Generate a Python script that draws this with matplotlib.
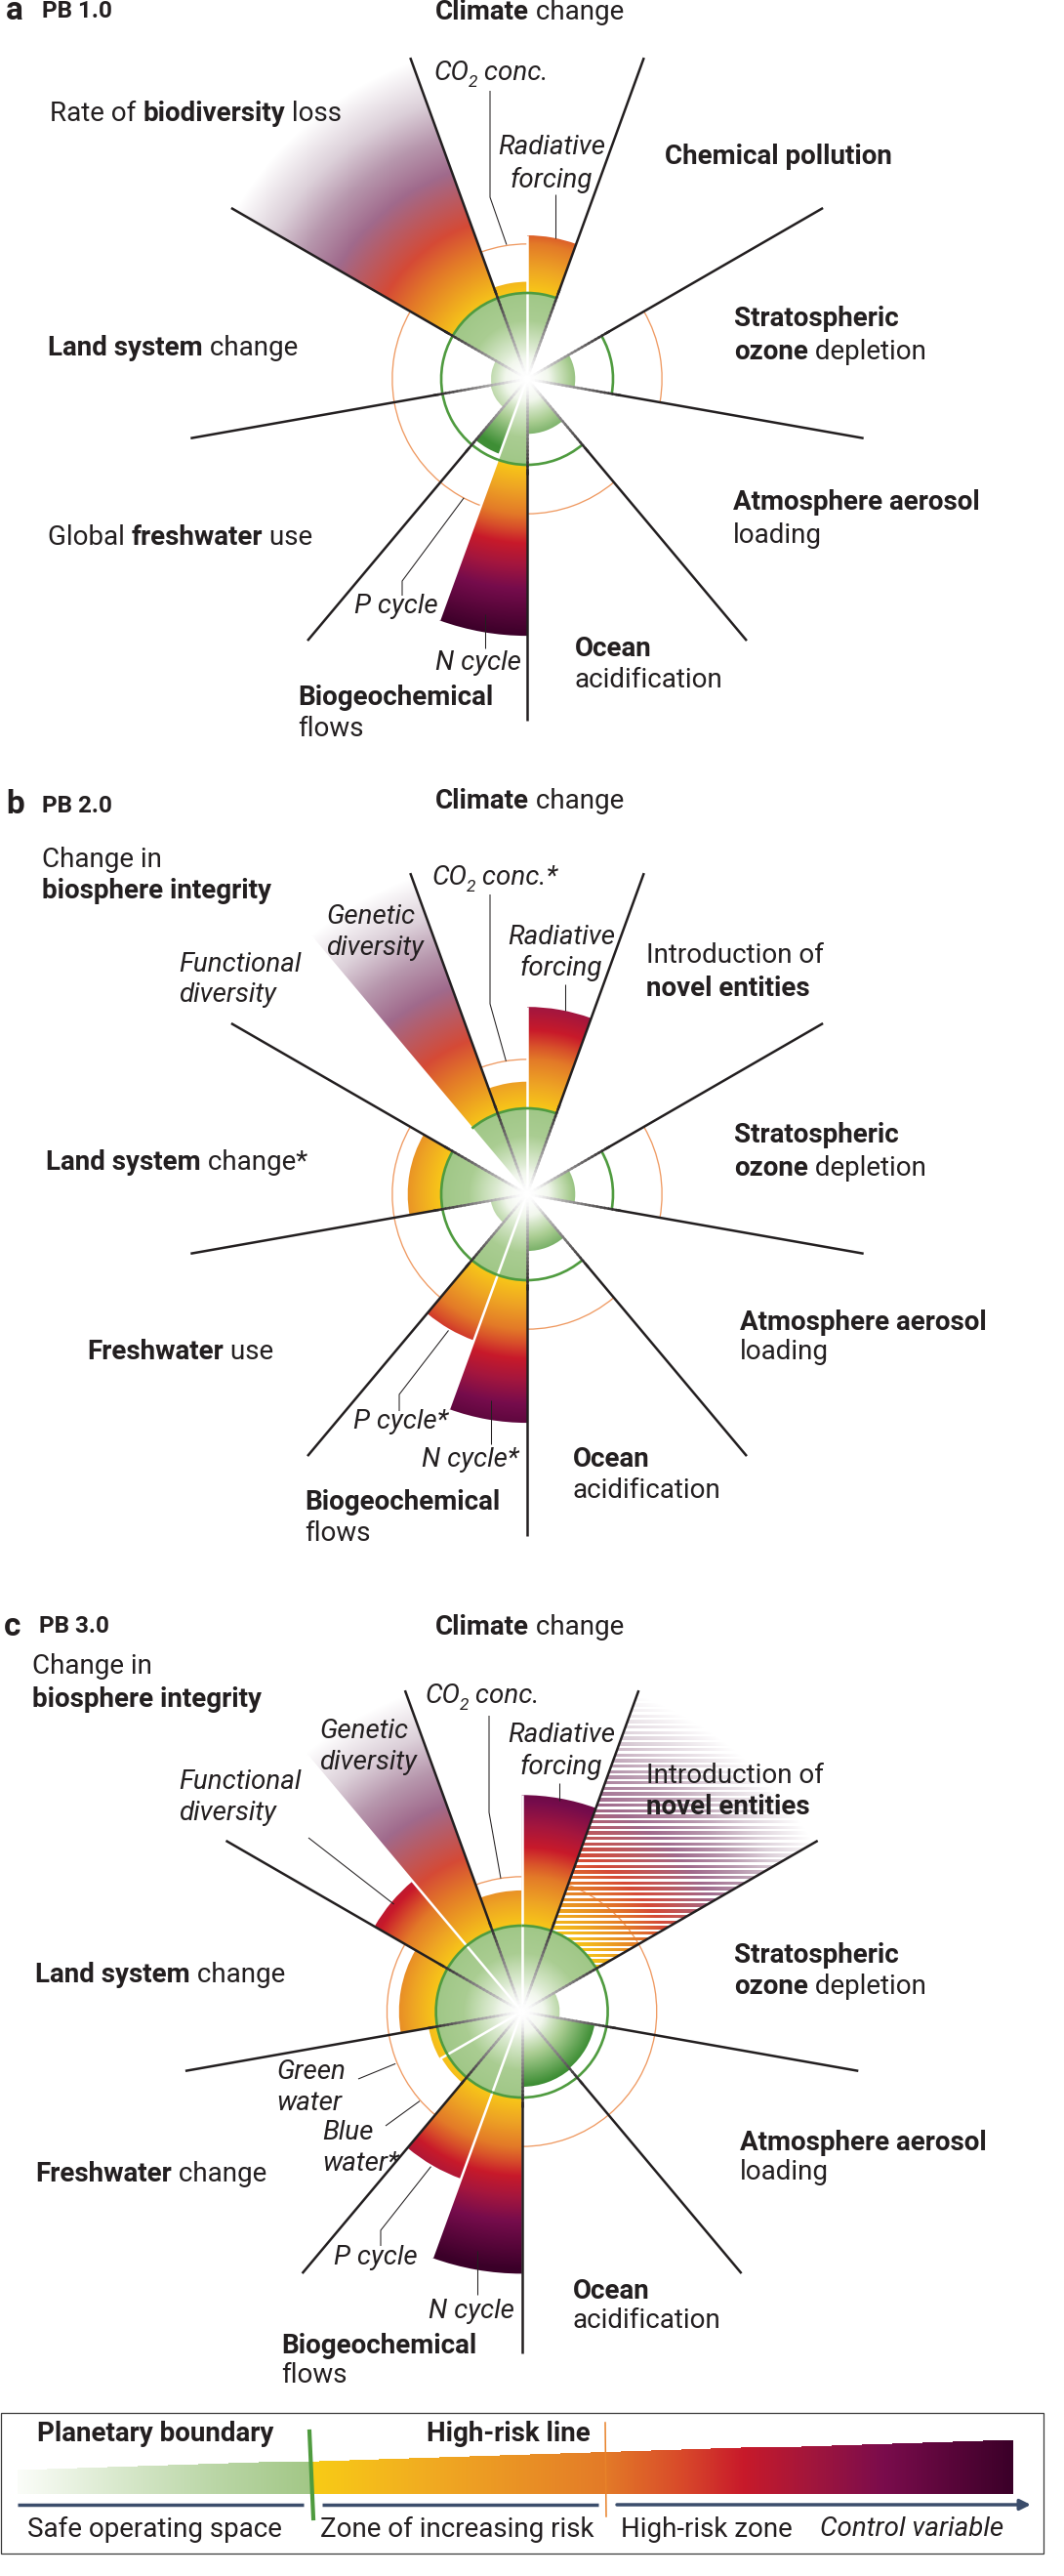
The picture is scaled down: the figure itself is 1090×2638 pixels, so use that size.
import re
import numpy as np
import matplotlib
matplotlib.use("Agg")
import matplotlib.pyplot as plt
from matplotlib.patches import Wedge, Arc, Polygon, Rectangle
from matplotlib.collections import LineCollection
from matplotlib.colors import to_rgb
from matplotlib.font_manager import FontProperties

FONT = ['Roboto', 'DejaVu Sans']
plt.rcParams['font.family'] = FONT

# =====================================================================
# Data: sub-wedges of each panel (compass degrees, clockwise from top)
# values = control variable in units of its boundary (1 = boundary)
#   None   -> not quantified
#   np.inf -> beyond the drawn scale (fades out)
# =====================================================================
groups_a = ['climate', 'climate', 'chemical', 'ozone', 'aerosol', 'ocean',
            'bgc', 'bgc', 'freshwater', 'land', 'biosphere']
start_a = [340, 0, 20, 60, 100, 140, 180, 200, 220, 260, 300]
end_a = [360, 20, 60, 100, 140, 180, 200, 220, 260, 300, 340]
value_a = [1.13, 1.67, None, 0.56, None, 0.64, 2.99, 0.93, 0.43, 0.42, np.inf]
hatch_a = [False] * 11

groups_b = ['climate', 'climate', 'novel', 'ozone', 'aerosol', 'ocean',
            'bgc', 'bgc', 'freshwater', 'land', 'biosphere', 'biosphere']
start_b = [340, 0, 20, 60, 100, 140, 180, 200, 220, 260, 300, 320]
end_b = [360, 20, 60, 100, 140, 180, 200, 220, 260, 300, 320, 340]
value_b = [1.31, 2.18, None, 0.56, None, 0.66, 2.66, 1.81, 0.43, 1.39, None, np.inf]
hatch_b = [False] * 12

groups_c = ['climate', 'climate', 'novel', 'ozone', 'aerosol', 'ocean',
            'bgc', 'bgc', 'freshwater', 'freshwater', 'land', 'biosphere', 'biosphere']
start_c = [340, 0, 20, 60, 100, 140, 180, 200, 220, 240, 260, 300, 320]
end_c = [360, 20, 60, 100, 140, 180, 200, 220, 240, 260, 300, 320, 340]
value_c = [1.41, 2.52, np.inf, 0.44, 0.86, 0.875, 3.05, 2.07, 1.08, 1.10, 1.43, 1.98, np.inf]
hatch_c = [False, False, True] + [False] * 10

HIGH_RISK = 1.57   # high-risk line in boundary units

# =====================================================================
# Layout / style
# =====================================================================
W, H = 1090, 2638
PB_PX = 88.0          # pixels per boundary unit
LINE_R = 350          # spoke length (px)
CENTERS = [(540, 388), (540, 1223), (534.6, 2060)]
TXT = '#231f20'
FS = 20
GREEN_LINE = '#4f9b3f'
ORANGE_LINE = '#ef9a62'

EXCEED = [(0, '#ffffff'), (0.25, '#eef5e8'), (0.68, '#aacd92'), (1.0, '#a0c787'),
          (1.0001, '#f8c818'), (1.28, '#eea424'), (1.57, '#e37a28'), (1.73, '#d8502a'),
          (1.91, '#c81a2a'), (2.16, '#a4163e'), (2.44, '#760c4c'), (3.0, '#3a0028'),
          (6, '#3a0028')]
WITHIN = [(0, '#ffffff'), (0.25, '#eef5e8'), (0.5, '#aacd92'), (0.85, '#3f8f36'),
          (6, '#3a8a30')]
FADE = [(0, '#ffffff'), (0.25, '#eef5e8'), (0.68, '#aacd92'), (1.0, '#a0c787'),
        (1.0001, '#f6c41a'), (1.57, '#e37a28'), (1.91, '#d54a36'), (2.56, '#a06a8c'),
        (2.98, '#b797ad'), (3.4, '#dcd0d9'), (3.92, '#ffffff'), (6, '#ffffff')]
LEGEND = [(17.5, '#fbfdf9'), (120, '#d9e9cd'), (220, '#bad6a6'), (318, '#a2c786'),
          (318.5, '#f8cc16'), (450, '#f0a822'), (620, '#e37a28'), (700, '#d8482a'),
          (760, '#c81a2a'), (830, '#a2163c'), (905, '#7a0c4c'), (1037.6, '#3a0028')]


def ramp(stops, t):
    xs = [s[0] for s in stops]
    cols = np.array([to_rgb(s[1]) for s in stops])
    return np.stack([np.interp(t, xs, cols[:, k]) for k in range(3)], axis=-1)


def polar(cx, cy, phi, r):
    a = np.deg2rad(phi)
    return cx + r * np.sin(a), cy - r * np.cos(a)


fig = plt.figure(figsize=(W / 100, H / 100), dpi=100)
ax = fig.add_axes([0, 0, 1, 1])
ax.axis('off')
renderer = fig.canvas.get_renderer()

# radial grid shared by the panels
R = 360
idx = np.arange(2 * R) + 0.5 - R
GX, GY = np.meshgrid(idx, idx)
RR = np.hypot(GX, GY) / PB_PX
IMG = {}
for name, stops in (('exceed', EXCEED), ('within', WITHIN), ('fade', FADE)):
    rgba = np.ones((2 * R, 2 * R, 4))
    rgba[..., :3] = ramp(stops, RR)
    IMG[name] = rgba
glow = np.ones((2 * R, 2 * R, 4))
glow[..., 3] = np.clip(1 - RR * PB_PX / 32.0, 0, 1) ** 1.4


def draw_panel(cx, cy, starts, ends, values, groups, hatched):
    ext = (cx - R, cx + R, cy + R, cy - R)
    n = len(starts)
    radii = []
    for s, e, v, h in zip(starts, ends, values, hatched):
        if v is None:
            radii.append(0)
            continue
        # boundary and high-risk arcs
        ax.add_patch(Arc((cx, cy), 2 * HIGH_RISK * PB_PX, 2 * HIGH_RISK * PB_PX,
                         theta1=s - 90, theta2=e - 90, color=ORANGE_LINE, lw=0.95, zorder=1))
        ax.add_patch(Arc((cx, cy), 2 * PB_PX, 2 * PB_PX, theta1=s - 90, theta2=e - 90,
                         color=GREEN_LINE, lw=1.9, zorder=4))
        if np.isinf(v):
            r = LINE_R
            img = IMG['fade']
            if h:
                img = img.copy()
                rows = cy - R + np.arange(2 * R) + 0.5
                off = (rows % 5.7) > 3.4
                mask = off[:, None] & (RR > 1.0)
                img[mask, 3] = 0
        else:
            r = v * PB_PX
            img = IMG['exceed'] if v > 1 else IMG['within']
        radii.append(r)
        wp = Wedge((cx, cy), r, s - 90, e - 90, transform=ax.transData)
        im = ax.imshow(img, extent=ext, origin='upper', interpolation='bilinear',
                       aspect='auto', zorder=2)
        im.set_clip_path(wp)

    # spokes between boundaries, white gaps between sub-wedges
    spokes = []
    for i in range(n):
        j = (i - 1) % n
        phi = starts[i]
        if groups[i] != groups[j]:
            spokes.append(phi)
        else:
            rl = min(LINE_R, max(radii[i], radii[j]))
            if rl > 0:
                x1, y1 = polar(cx, cy, phi, rl)
                ax.plot([cx, x1], [cy, y1], color='white', lw=1.8, zorder=3,
                        solid_capstyle='butt')
    # spokes: grey-to-black gradient near the centre, then a solid line
    segs, cols = [], []
    dark = np.array(to_rgb(TXT))
    rs = np.linspace(0, 96, 25)
    for phi in spokes:
        for r0, r1 in zip(rs[:-1], rs[1:]):
            segs.append([polar(cx, cy, phi, r0), polar(cx, cy, phi, r1 + 1.5)])
            t = min(r0 / 95.0, 1.0)
            cols.append(tuple(np.ones(3) * (1 - t) + dark * t))
        x0, y0 = polar(cx, cy, phi, 94)
        x1, y1 = polar(cx, cy, phi, LINE_R)
        ax.plot([x0, x1], [y0, y1], color=TXT, lw=1.8, zorder=5, solid_capstyle='butt')
    ax.add_collection(LineCollection(segs, colors=cols, linewidths=1.8, zorder=5,
                                     capstyle='butt'))
    ax.imshow(glow, extent=ext, origin='upper', interpolation='bilinear',
              aspect='auto', zorder=6)


def parse(s):
    out, bold, sub = [], False, False
    for p in re.split(r'(\*\*|~)', s):
        if p == '**':
            bold = not bold
        elif p == '~':
            sub = not sub
        elif p:
            out.append((p, bold, sub))
    return out


def text_width(s, fp):
    w1 = renderer.get_text_width_height_descent(s + '|', fp, ismath=False)[0]
    w0 = renderer.get_text_width_height_descent('|', fp, ismath=False)[0]
    return w1 - w0


def label(x, y, s, ha='left', size=FS, style='normal'):
    pieces = parse(s)
    fps = [FontProperties(family=FONT, size=size * (0.62 if sub else 1.0),
                          weight='bold' if b else 'normal', style=style)
           for _, b, sub in pieces]
    widths = [text_width(p[0], fp) for p, fp in zip(pieces, fps)]
    if ha == 'center':
        x -= sum(widths) / 2
    for (txt, b, sub), fp, w in zip(pieces, fps, widths):
        dy = 0.33 * size * 100 / 72 if sub else 0
        ax.text(x, y + dy, txt, fontproperties=fp, ha='left', va='center',
                color=TXT, zorder=10)
        x += w


def leader(cx, cy, pts, phi, r):
    ex, ey = polar(cx, cy, phi, r)
    xs = [ex if p[0] is None else p[0] for p in pts] + [ex]
    ys = [p[1] for p in pts] + [ey]
    ax.plot(xs, ys, color=TXT, lw=0.75, zorder=9, solid_capstyle='butt')


# ---------------------------------------------------------------------
# panels
# ---------------------------------------------------------------------
draw_panel(*CENTERS[0], start_a, end_a, value_a, groups_a, hatch_a)
draw_panel(*CENTERS[1], start_b, end_b, value_b, groups_b, hatch_b)
draw_panel(*CENTERS[2], start_c, end_c, value_c, groups_c, hatch_c)

IT = 'italic'
PBS = 17.5
labels_a = [
    (6, 11, '**a**', 'left', 24, 'normal'), (43, 12, '**PB 1.0**', 'left', PBS, 'normal'),
    (446, 12, '**Climate** change', 'left', FS, 'normal'),
    (444, 75, 'CO~2~ conc.', 'left', FS, IT),
    (51, 116, 'Rate of **biodiversity** loss', 'left', FS, 'normal'),
    (565, 151, 'Radiative', 'center', FS, IT), (565, 184, 'forcing', 'center', FS, IT),
    (681, 160, '**Chemical pollution**', 'left', FS, 'normal'),
    (752, 326, '**Stratospheric**', 'left', FS, 'normal'),
    (752, 361, '**ozone** depletion', 'left', FS, 'normal'),
    (49, 356, '**Land system** change', 'left', FS, 'normal'),
    (49, 550, 'Global **freshwater** use', 'left', FS, 'normal'),
    (751, 515, '**Atmosphere aerosol**', 'left', FS, 'normal'),
    (751, 548, 'loading', 'left', FS, 'normal'),
    (363, 621, 'P cycle', 'left', FS, IT), (446, 679, 'N cycle', 'left', FS, IT),
    (589, 665, '**Ocean**', 'left', FS, 'normal'), (589, 696, 'acidification', 'left', FS, 'normal'),
    (305, 714, '**Biogeochemical**', 'left', FS, 'normal'), (305, 746, 'flows', 'left', FS, 'normal'),
]
labels_b = [
    (6, 824, '**b**', 'left', 24, 'normal'), (43, 825, '**PB 2.0**', 'left', PBS, 'normal'),
    (446, 821, '**Climate** change', 'left', FS, 'normal'),
    (43, 880, 'Change in', 'left', FS, 'normal'),
    (43, 912, '**biosphere integrity**', 'left', FS, 'normal'),
    (442, 899, 'CO~2~ conc.*', 'left', FS, IT),
    (334, 939, 'Genetic', 'left', FS, IT), (334, 971, 'diversity', 'left', FS, IT),
    (183, 988, 'Functional', 'left', FS, IT), (183, 1019, 'diversity', 'left', FS, IT),
    (575, 960, 'Radiative', 'center', FS, IT), (575, 991, 'forcing', 'center', FS, IT),
    (662, 979, 'Introduction of', 'left', FS, 'normal'),
    (662, 1013, '**novel entities**', 'left', FS, 'normal'),
    (752, 1163, '**Stratospheric**', 'left', FS, 'normal'),
    (752, 1196, '**ozone** depletion', 'left', FS, 'normal'),
    (47, 1191, '**Land system** change*', 'left', FS, 'normal'),
    (89, 1385, '**Freshwater** use', 'left', FS, 'normal'),
    (758, 1354, '**Atmosphere aerosol**', 'left', FS, 'normal'),
    (758, 1385, 'loading', 'left', FS, 'normal'),
    (362, 1456, 'P cycle*', 'left', FS, IT), (432, 1495, 'N cycle*', 'left', FS, IT),
    (587, 1495, '**Ocean**', 'left', FS, 'normal'), (587, 1526, 'acidification', 'left', FS, 'normal'),
    (312, 1539, '**Biogeochemical**', 'left', FS, 'normal'), (312, 1570, 'flows', 'left', FS, 'normal'),
]
labels_c = [
    (4, 1666, '**c**', 'left', 24, 'normal'), (40, 1666, '**PB 3.0**', 'left', PBS, 'normal'),
    (446, 1666, '**Climate** change', 'left', FS, 'normal'),
    (33, 1707, 'Change in', 'left', FS, 'normal'),
    (33, 1740, '**biosphere integrity**', 'left', FS, 'normal'),
    (435, 1737, 'CO~2~ conc.', 'left', FS, IT),
    (327, 1773, 'Genetic', 'left', FS, IT), (327, 1805, 'diversity', 'left', FS, IT),
    (183, 1825, 'Functional', 'left', FS, IT), (183, 1857, 'diversity', 'left', FS, IT),
    (575, 1777, 'Radiative', 'center', FS, IT), (575, 1809, 'forcing', 'center', FS, IT),
    (662, 1818, 'Introduction of', 'left', FS, 'normal'),
    (662, 1851, '**novel entities**', 'left', FS, 'normal'),
    (752, 2002, '**Stratospheric**', 'left', FS, 'normal'),
    (752, 2035, '**ozone** depletion', 'left', FS, 'normal'),
    (36, 2022, '**Land system** change', 'left', FS, 'normal'),
    (283, 2122, 'Green', 'left', FS, IT), (283, 2154, 'water', 'left', FS, IT),
    (330, 2184, 'Blue', 'left', FS, IT), (330, 2216, 'water*', 'left', FS, IT),
    (36, 2227, '**Freshwater** change', 'left', FS, 'normal'),
    (758, 2195, '**Atmosphere aerosol**', 'left', FS, 'normal'),
    (758, 2225, 'loading', 'left', FS, 'normal'),
    (342, 2312, 'P cycle', 'left', FS, IT), (439, 2367, 'N cycle', 'left', FS, IT),
    (587, 2346, '**Ocean**', 'left', FS, 'normal'), (587, 2376, 'acidification', 'left', FS, 'normal'),
    (288, 2403, '**Biogeochemical**', 'left', FS, 'normal'), (288, 2433, 'flows', 'left', FS, 'normal'),
]
for x, y, s, ha, size, style in labels_a + labels_b + labels_c:
    label(x, y, s, ha, size, style)

# leader lines: label side points, then target (compass angle, radius px)
leaders = [
    (0, [(502, 93), (502, 202)], 351.3, 139), (0, [(None, 199)], 11.5, 147),
    (0, [(412, 610), (412, 595)], 208, 138), (0, [(None, 664)], 190, 245),
    (1, [(502, 916), (502, 1028)], 351, 138), (1, [(None, 1008)], 11.6, 192),
    (1, [(409, 1445), (409, 1428)], 210, 161), (1, [(None, 1479)], 190, 214),
    (2, [(501, 1757), (501, 1856)], 351, 138), (2, [(None, 1826)], 10.1, 219),
    (2, [(316, 1882)], 310, 171), (2, [(367, 2129)], 247.6, 140),
    (2, [(395, 2177)], 228.8, 139), (2, [(390, 2300), (390, 2284)], 210.4, 184),
    (2, [(None, 2350)], 190.5, 249),
]
for k, pts, phi, r in leaders:
    leader(*CENTERS[k], pts, phi, r)

# ---------------------------------------------------------------------
# legend
# ---------------------------------------------------------------------
ax.add_patch(Rectangle((1, 2471), 1068, 144, fill=False, ec='#3a3a3a', lw=0.9, zorder=1))
lx0, lx1, lbot, ltop0, ltop1 = 17.5, 1037.6, 2554, 2529, 2498
xs = np.linspace(lx0, lx1, 1021)
bar = np.ones((1, len(xs), 3))
bar[0] = ramp(LEGEND, xs)
steps = np.linspace(lx0, lx1, 34)
poly = [(lx0, lbot)]
for xa, xb in zip(steps[:-1], steps[1:]):
    yt = ltop0 + (ltop1 - ltop0) * (xa - lx0) / (lx1 - lx0)
    poly += [(xa, yt), (xb, yt)]
poly += [(lx1, lbot)]
clip = Polygon(poly, closed=True, transform=ax.transData)
im = ax.imshow(bar, extent=(lx0, lx1, lbot, ltop1 - 2), origin='upper',
               interpolation='bilinear', aspect='auto', zorder=2)
im.set_clip_path(clip)
ax.plot([317, 321], [2490, 2579], color=GREEN_LINE, lw=3.0, zorder=4)
ax.plot([620, 621], [2481, 2577], color='#e8822a', lw=1.1, zorder=4)
ARROW = '#3b4d6b'
ax.plot([17.5, 311], [2565, 2565], color=ARROW, lw=2.5, solid_capstyle='butt')
ax.plot([330, 613], [2565, 2565], color=ARROW, lw=2.5, solid_capstyle='butt')
ax.annotate('', xy=(1056, 2565), xytext=(632, 2565),
            arrowprops=dict(arrowstyle='-|>', color=ARROW, lw=2.5, mutation_scale=16,
                            shrinkA=0, shrinkB=0))
label(38, 2493, '**Planetary boundary**')
label(437, 2493, '**High-risk line**')
label(28, 2590, 'Safe operating space')
label(328, 2590, 'Zone of increasing risk')
label(636, 2590, 'High-risk zone')
label(840, 2590, 'Control variable', style='italic')

ax.set_xlim(0, W)
ax.set_ylim(H, 0)
fig.savefig('out.png', dpi=100)
